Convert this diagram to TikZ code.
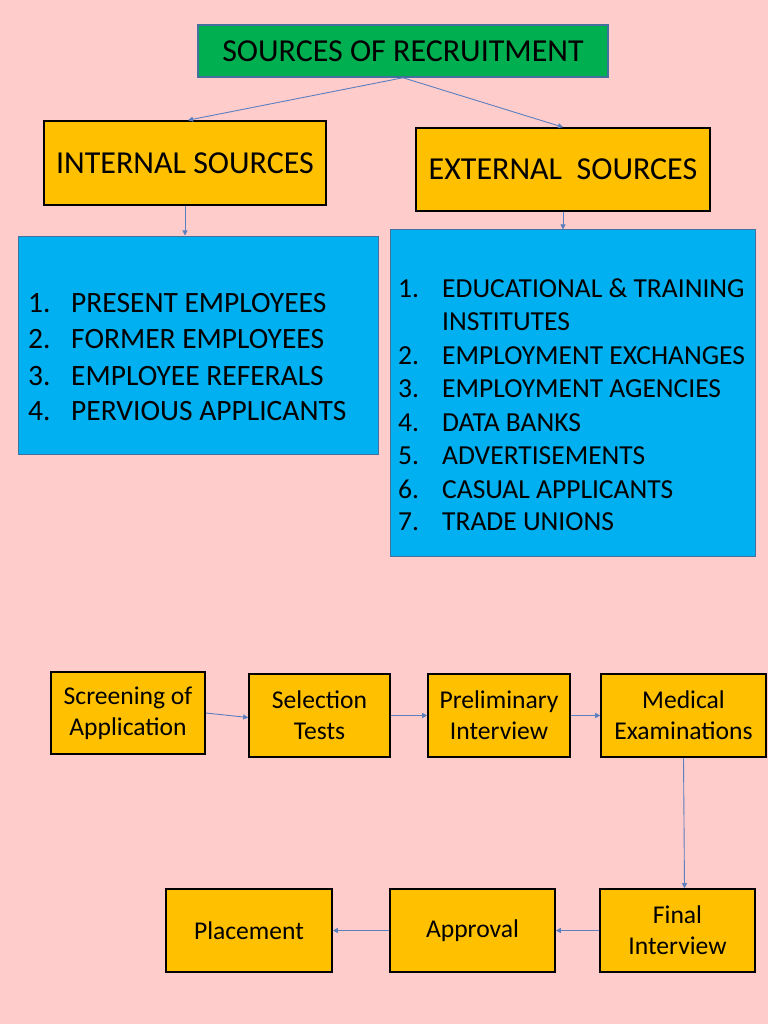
\documentclass[tikz,border=0pt]{standalone}
\usepackage{fontspec}
\setmainfont{Carlito}
\usetikzlibrary{arrows.meta}
\definecolor{bgpink}{HTML}{FFCCCC}
\definecolor{titlegreen}{HTML}{00B050}
\definecolor{boxyellow}{HTML}{FFC000}
\definecolor{listblue}{HTML}{00B0F0}
\definecolor{edgeblue}{HTML}{41719C}
\definecolor{arrowblue}{HTML}{5B7FBF}
\begin{document}
\begin{tikzpicture}[x=1pt,y=-1pt,
  titlebox/.style={draw=edgeblue,line width=1.5pt,fill=titlegreen,inner sep=0pt,
    font=\fontsize{32}{38}\selectfont},
  headbox/.style={draw=black,line width=1.6pt,fill=boxyellow,inner sep=0pt,
    font=\fontsize{32}{38}\selectfont},
  listbox/.style={draw=edgeblue,line width=1pt,fill=listblue,inner sep=0pt},
  intitem/.style={anchor=base west,inner sep=0pt,font=\fontsize{29.5}{35}\selectfont},
  extitem/.style={anchor=base west,inner sep=0pt,font=\fontsize{27.5}{33}\selectfont},
  stepbox/.style={draw=black,line width=1.6pt,fill=boxyellow,inner sep=0pt,align=center,
    font=\fontsize{25.6}{31}\selectfont},
  conn/.style={draw=arrowblue,line width=0.9pt,-{Triangle[length=5pt,width=5pt]}}
]
\fill[bgpink] (0,0) rectangle (768,1024);
\useasboundingbox (0,0) rectangle (768,1024);

\node[titlebox,minimum width=410pt,minimum height=52pt] (title) at (403,51) {SOURCES OF RECRUITMENT};
\node[headbox,minimum width=282pt,minimum height=84pt] (internal) at (185,163) {INTERNAL SOURCES};
\node[headbox,minimum width=294pt,minimum height=83pt] (external) at (563,169.5) {EXTERNAL\ \ SOURCES};
\node[listbox,minimum width=360pt,minimum height=218pt] (intlist) at (198,345) {};
\node[listbox,minimum width=365pt,minimum height=326pt] (extlist) at (572.5,393) {};

% internal list
\node[intitem] (in1) at (28,312.5) {1.};
\node[intitem] (it1) at (71,312.5) {PRESENT EMPLOYEES};
\node[intitem] (in2) at (28,348.5) {2.};
\node[intitem] (it2) at (71,348.5) {FORMER EMPLOYEES};
\node[intitem] (in3) at (28,385.5) {3.};
\node[intitem] (it3) at (71,385.5) {EMPLOYEE REFERALS};
\node[intitem] (in4) at (28,420.5) {4.};
\node[intitem] (it4) at (71,420.5) {PERVIOUS APPLICANTS};

% external list
\node[extitem] (en1) at (398,297) {1.};
\node[extitem] (et1) at (442,297) {EDUCATIONAL \& TRAINING};
\node[extitem] (et1b) at (442,330) {INSTITUTES};
\node[extitem] (en2) at (398,364) {2.};
\node[extitem] (et2) at (442,364) {EMPLOYMENT EXCHANGES};
\node[extitem] (en3) at (398,397) {3.};
\node[extitem] (et3) at (442,397) {EMPLOYMENT AGENCIES};
\node[extitem] (en4) at (398,431) {4.};
\node[extitem] (et4) at (442,431) {DATA BANKS};
\node[extitem] (en5) at (398,464) {5.};
\node[extitem] (et5) at (442,464) {ADVERTISEMENTS};
\node[extitem] (en6) at (398,498) {6.};
\node[extitem] (et6) at (442,498) {CASUAL APPLICANTS};
\node[extitem] (en7) at (398,530) {7.};
\node[extitem] (et7) at (442,530) {TRADE UNIONS};

% process boxes
\node[stepbox,minimum width=154pt,minimum height=82pt] (screen) at (128,713) {Screening of\\Application};
\node[stepbox,minimum width=141pt,minimum height=83pt] (select) at (319.5,715.5) {Selection\\Tests};
\node[stepbox,minimum width=142pt,minimum height=83pt] (prelim) at (499,715.5) {Preliminary\\Interview};
\node[stepbox,minimum width=165pt,minimum height=83pt] (medical) at (683.5,715.5) {Medical\\Examinations};
\node[stepbox,minimum width=155pt,minimum height=83pt] (final) at (677.5,930.5) {Final\\Interview};
\node[stepbox,minimum width=165pt,minimum height=83pt] (approval) at (472.5,930.5) {Approval};
\node[stepbox,minimum width=166pt,minimum height=83pt] (placement) at (249,930.5) {Placement};

% connectors
\draw[conn] (title.south) -- ([xshift=3pt]internal.north);
\draw[conn] (title.south) -- (external.north);
\draw[conn] (internal.south) -- (intlist.north -| internal.south);
\draw[conn] (external.south) -- (extlist.north -| external.south);
\draw[conn] (screen.east) -- ([yshift=-2pt]select.west);
\draw[conn] (select.east) -- (prelim.west);
\draw[conn] (prelim.east) -- (medical.west);
\draw[conn] (medical.south) -- ([xshift=7pt]final.north);
\draw[conn] (final.west) -- (approval.east);
\draw[conn] (approval.west) -- (placement.east);
\end{tikzpicture}
\end{document}
